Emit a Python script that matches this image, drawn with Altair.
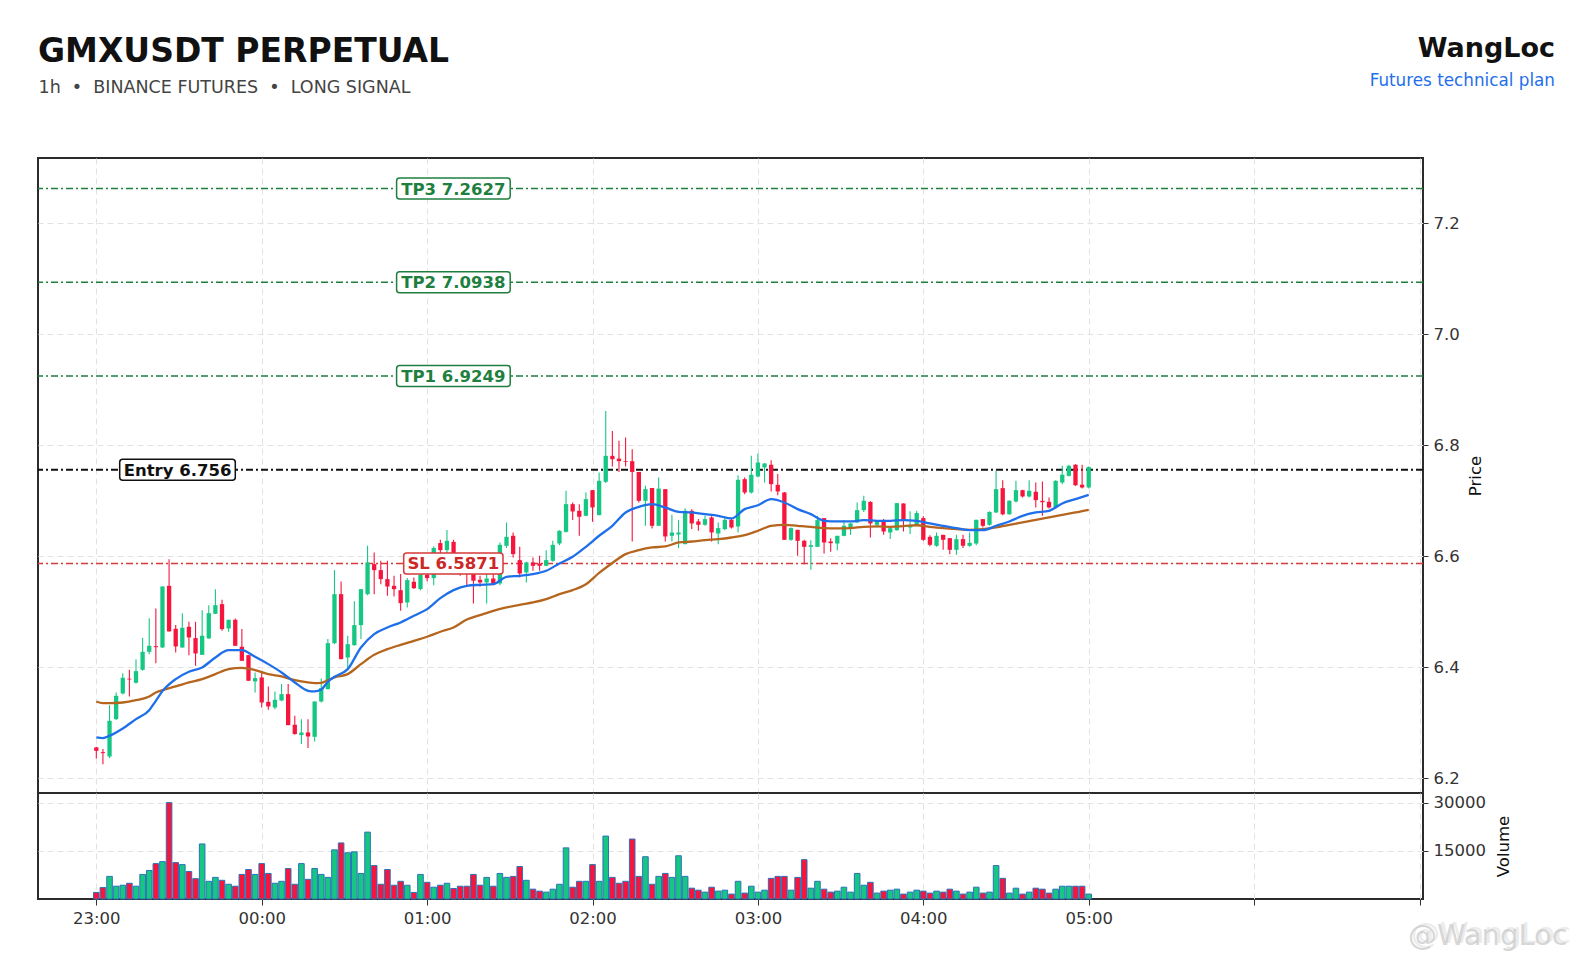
import altair as alt
import pandas as pd

# ---------------- data ----------------
opens = [6.2556, 6.2471, 6.2393, 6.3066, 6.3529, 6.3795, 6.3721, 6.3955, 6.4279, 6.4380,
         6.4357, 6.5468, 6.4694, 6.4357, 6.4730, 6.4526, 6.4225, 6.4520, 6.4964, 6.5138,
         6.4700, 6.4856, 6.4370, 6.4219, 6.3745, 6.3817, 6.3378, 6.3276, 6.3402, 6.3517,
         6.2964, 6.2778, 6.2826, 6.2748, 6.3384, 6.3607, 6.4435, 6.5318, 6.4177, 6.4399,
         6.4760, 6.5318, 6.5859, 6.5751, 6.5589, 6.5468, 6.5390, 6.5168, 6.5541, 6.5410,
         6.5667, 6.5607, 6.6238, 6.6111, 6.6260, 6.5900, 6.5750, 6.5680, 6.5577, 6.5529,
         6.5600, 6.5510, 6.6189, 6.6370, 6.5931, 6.5709, 6.5889, 6.5871, 6.5829, 6.5919,
         6.6231, 6.6440, 6.6940, 6.6820, 6.6730, 6.7192, 6.6742, 6.7342, 6.7810, 6.7760,
         6.7714, 6.7714, 6.7520, 6.7000, 6.7230, 6.6550, 6.7210, 6.6369, 6.6393, 6.6219,
         6.6820, 6.6628, 6.6568, 6.6700, 6.6411, 6.6490, 6.6658, 6.6538, 6.7390, 6.7150,
         6.7438, 6.7601, 6.7650, 6.7288, 6.7150, 6.6297, 6.6477, 6.6279, 6.6171, 6.6171,
         6.6688, 6.6267, 6.6230, 6.6369, 6.6507, 6.6610, 6.6832, 6.6980, 6.6567, 6.6640,
         6.6430, 6.6471, 6.6952, 6.6520, 6.6560, 6.6688, 6.6351, 6.6189, 6.6387, 6.6327,
         6.6117, 6.6310, 6.6189, 6.6230, 6.6670, 6.6568, 6.6790, 6.7228, 6.6757, 6.6988,
         6.7192, 6.7078, 6.7162, 6.7000, 6.6982, 6.6880, 6.7330, 6.7450, 6.7650, 6.7290,
         6.7240]
highs = [6.2570, 6.2526, 6.3318, 6.3547, 6.3895, 6.3955, 6.4147, 6.4526, 6.4886, 6.5060,
         6.5456, 6.5949, 6.4760, 6.4976, 6.4820, 6.4820, 6.5030, 6.5120, 6.5408, 6.5216,
         6.4856, 6.4880, 6.4688, 6.4225, 6.3907, 6.3907, 6.3655, 6.3565, 6.3697, 6.3697,
         6.3126, 6.3066, 6.3066, 6.3384, 6.3799, 6.4508, 6.5751, 6.5547, 6.4568, 6.5192,
         6.5408, 6.6189, 6.6069, 6.5919, 6.5919, 6.5649, 6.5679, 6.5607, 6.5619, 6.5829,
         6.5780, 6.6180, 6.6300, 6.6474, 6.6300, 6.6000, 6.5850, 6.5750, 6.5650, 6.5720,
         6.5680, 6.6250, 6.6610, 6.6430, 6.6171, 6.5900, 6.5980, 6.6009, 6.6111, 6.6280,
         6.6471, 6.7180, 6.6970, 6.6940, 6.7150, 6.7192, 6.7510, 6.8620, 6.8260, 6.8080,
         6.8140, 6.7930, 6.7520, 6.7270, 6.7230, 6.7420, 6.7210, 6.6748, 6.6652, 6.6868,
         6.6850, 6.6670, 6.6730, 6.6720, 6.6610, 6.6718, 6.6680, 6.7462, 6.7420, 6.7810,
         6.7853, 6.7680, 6.7733, 6.7481, 6.7160, 6.6520, 6.6480, 6.6300, 6.6290, 6.6730,
         6.6690, 6.6327, 6.6370, 6.6650, 6.6600, 6.6970, 6.7090, 6.6990, 6.6650, 6.6670,
         6.6510, 6.6960, 6.6955, 6.6810, 6.6820, 6.6720, 6.6380, 6.6430, 6.6390, 6.6330,
         6.6387, 6.6387, 6.6430, 6.6660, 6.6670, 6.6810, 6.7540, 6.7369, 6.7010, 6.7360,
         6.7200, 6.7372, 6.7330, 6.7350, 6.7060, 6.7370, 6.7630, 6.7650, 6.7660, 6.7650,
         6.7620]
lows = [6.2357, 6.2255, 6.2363, 6.3050, 6.3510, 6.3474, 6.3710, 6.3940, 6.4237, 6.4075,
        6.4350, 6.4646, 6.4267, 6.4350, 6.4219, 6.4027, 6.4220, 6.4515, 6.4960, 6.4658,
        6.4640, 6.4387, 6.4117, 6.3757, 6.3547, 6.3276, 6.3234, 6.3246, 6.3390, 6.2958,
        6.2784, 6.2616, 6.2544, 6.2664, 6.3366, 6.3600, 6.4417, 6.4147, 6.3967, 6.4390,
        6.4508, 6.5300, 6.5318, 6.5498, 6.5288, 6.5276, 6.5018, 6.5078, 6.5410, 6.5390,
        6.5550, 6.5480, 6.5950, 6.6000, 6.5800, 6.5650, 6.5480, 6.5150, 6.5450, 6.5150,
        6.5480, 6.5480, 6.6150, 6.5980, 6.5619, 6.5529, 6.5740, 6.5740, 6.5820, 6.5900,
        6.6200, 6.6430, 6.6652, 6.6370, 6.6720, 6.6622, 6.6740, 6.7320, 6.7620, 6.7520,
        6.7620, 6.6267, 6.6970, 6.6550, 6.6500, 6.6550, 6.6267, 6.6267, 6.6147, 6.6219,
        6.6490, 6.6460, 6.6550, 6.6267, 6.6219, 6.6470, 6.6500, 6.6430, 6.7120, 6.7130,
        6.7420, 6.7330, 6.7168, 6.7100, 6.6297, 6.6280, 6.6009, 6.5859, 6.5757, 6.6171,
        6.6051, 6.6080, 6.6110, 6.6360, 6.6387, 6.6600, 6.6800, 6.6340, 6.6520, 6.6387,
        6.6310, 6.6460, 6.6447, 6.6400, 6.6550, 6.6280, 6.6180, 6.6170, 6.6117, 6.6039,
        6.6027, 6.6150, 6.6170, 6.6200, 6.6520, 6.6550, 6.6780, 6.6740, 6.6750, 6.6970,
        6.7060, 6.7060, 6.6880, 6.6730, 6.6860, 6.6860, 6.7300, 6.7440, 6.7270, 6.7220,
        6.7220]
closes = [6.2495, 6.2453, 6.3036, 6.3486, 6.3811, 6.3780, 6.3931, 6.4279, 6.4387, 6.4362,
          6.5456, 6.4646, 6.4375, 6.4712, 6.4538, 6.4249, 6.4568, 6.4976, 6.5120, 6.4688,
          6.4856, 6.4387, 6.4117, 6.3757, 6.3805, 6.3366, 6.3294, 6.3414, 6.3517, 6.2958,
          6.2796, 6.2826, 6.2754, 6.3384, 6.3625, 6.4435, 6.5318, 6.4147, 6.4417, 6.4760,
          6.5408, 6.5889, 6.5751, 6.5589, 6.5456, 6.5408, 6.5156, 6.5571, 6.5426, 6.5667,
          6.5607, 6.6150, 6.6111, 6.6280, 6.5900, 6.5750, 6.5680, 6.5560, 6.5529, 6.5600,
          6.5510, 6.6207, 6.6351, 6.6039, 6.5691, 6.5889, 6.5829, 6.5829, 6.5931, 6.6207,
          6.6460, 6.6940, 6.6808, 6.6712, 6.7030, 6.6880, 6.7360, 6.7810, 6.7750, 6.7714,
          6.7700, 6.7520, 6.7000, 6.7210, 6.6550, 6.7220, 6.6357, 6.6429, 6.6429, 6.6820,
          6.6592, 6.6568, 6.6670, 6.6430, 6.6508, 6.6658, 6.6520, 6.7378, 6.7150, 6.7469,
          6.7690, 6.7673, 6.7300, 6.7168, 6.6297, 6.6508, 6.6279, 6.6171, 6.6201, 6.6652,
          6.6249, 6.6237, 6.6369, 6.6550, 6.6592, 6.6832, 6.7000, 6.6592, 6.6639, 6.6447,
          6.6507, 6.6958, 6.6640, 6.6560, 6.6780, 6.6297, 6.6207, 6.6369, 6.6297, 6.6117,
          6.6309, 6.6190, 6.6243, 6.6658, 6.6550, 6.6800, 6.7210, 6.6757, 6.7000, 6.7192,
          6.7078, 6.7180, 6.7012, 6.6975, 6.6880, 6.7360, 6.7470, 6.7630, 6.7280, 6.7240,
          6.7610]
volumes = [2040, 3570, 7040, 3980, 4290, 4900, 3980, 7650, 8880, 11020,
           11630, 30000, 11330, 10710, 8570, 6330, 17140, 5510, 6730, 5820,
           4590, 3980, 7650, 9180, 7650, 11020, 7960, 4900, 5510, 9490,
           4590, 11020, 6120, 9490, 7650, 6730, 15300, 17450, 14390, 14690,
           7960, 20820, 10410, 4590, 9180, 4290, 5510, 4290, 2040, 7650,
           5200, 3670, 4290, 4900, 3260, 3980, 3980, 7650, 4290, 6730,
           3980, 7960, 6730, 7040, 10100, 5820, 3060, 2450, 2140, 3060,
           4590, 15920, 3670, 5510, 5510, 10710, 5510, 19590, 6730, 4900,
           5510, 18670, 7040, 13160, 4590, 7040, 7960, 6730, 13460, 7040,
           3370, 2750, 2140, 3670, 2450, 2750, 1530, 5510, 1840, 3980,
           2140, 2750, 6430, 7040, 7040, 2750, 6730, 12240, 3370, 5510,
           3060, 2140, 2450, 3670, 2140, 7960, 4290, 5200, 1840, 2450,
           2750, 3060, 1530, 2140, 2750, 2450, 1840, 2450, 2140, 3060,
           2450, 1530, 2140, 3670, 1840, 2140, 10410, 6430, 1840, 3370,
           1530, 2140, 3370, 3060, 1840, 3060, 3980, 3980, 3980, 3980,
           1530]

# moving averages read at sampled candles (candle number, 1-based)
ma_idx = [1, 2, 3, 5, 7, 9, 10, 11, 13, 15, 17, 19, 21, 23, 25, 27, 29, 31, 33, 34,
          35, 36, 37, 39, 41, 43, 45, 47, 49, 51, 53, 55, 57, 59, 61, 63, 65, 67, 69, 71,
          73, 75, 77, 79, 81, 83, 85, 87, 89, 91, 93, 95, 97, 99, 101, 103, 105, 107, 109, 111,
          113, 115, 117, 119, 121, 123, 125, 127, 129, 131, 133, 135, 137, 139, 141, 143, 145, 147, 149, 151]
ma_fast = [6.2736, 6.2724, 6.2766, 6.2898, 6.3066, 6.3228, 6.3396, 6.3570, 6.3787, 6.3919,
           6.3997, 6.4177, 6.4309, 6.4309, 6.4189, 6.4057, 6.3907, 6.3727, 6.3577, 6.3565,
           6.3600, 6.3740, 6.3829, 6.3967, 6.4357, 6.4598, 6.4718, 6.4808, 6.4928, 6.5048,
           6.5246, 6.5390, 6.5468, 6.5486, 6.5498, 6.5630, 6.5649, 6.5679, 6.5739, 6.5871,
           6.5991, 6.6171, 6.6370, 6.6550, 6.6790, 6.6892, 6.6940, 6.6880, 6.6802, 6.6790,
           6.6760, 6.6730, 6.6682, 6.6850, 6.6920, 6.7030, 6.6970, 6.6850, 6.6760, 6.6640,
           6.6628, 6.6628, 6.6652, 6.6640, 6.6640, 6.6652, 6.6640, 6.6592, 6.6550, 6.6508,
           6.6471, 6.6471, 6.6550, 6.6628, 6.6730, 6.6790, 6.6820, 6.6952, 6.7030, 6.7108]
ma_slow = [6.3384, 6.3354, 6.3354, 6.3366, 6.3408, 6.3474, 6.3547, 6.3590, 6.3655, 6.3727,
           6.3787, 6.3877, 6.3967, 6.3990, 6.3949, 6.3877, 6.3835, 6.3769, 6.3727, 6.3715,
           6.3721, 6.3769, 6.3817, 6.3877, 6.4057, 6.4225, 6.4327, 6.4405, 6.4477, 6.4550,
           6.4640, 6.4718, 6.4860, 6.4940, 6.5018, 6.5078, 6.5126, 6.5168, 6.5228, 6.5318,
           6.5390, 6.5498, 6.5700, 6.5880, 6.6039, 6.6111, 6.6159, 6.6177, 6.6249, 6.6267,
           6.6291, 6.6309, 6.6339, 6.6381, 6.6460, 6.6550, 6.6568, 6.6550, 6.6532, 6.6508,
           6.6502, 6.6508, 6.6532, 6.6538, 6.6532, 6.6544, 6.6560, 6.6532, 6.6508, 6.6490,
           6.6477, 6.6490, 6.6520, 6.6568, 6.6610, 6.6658, 6.6700, 6.6748, 6.6790, 6.6838]

level_names = ["TP3", "TP2", "TP1", "Entry", "SL"]
level_prices = [7.2627, 7.0938, 6.9249, 6.756, 6.5871]

tick_hours = [23, 24, 25, 26, 27, 28, 29, 30, 31]
price_ticks = [6.2, 6.4, 6.6, 6.8, 7.0, 7.2]
volume_ticks = [15000, 30000]

NB = "\u00a0"
TITLE = "GMXUSDT PERPETUAL"
SUBTITLE = f"1h{NB}{NB}\u2022{NB}{NB}BINANCE FUTURES{NB}{NB}\u2022{NB}{NB}LONG SIGNAL"
BRAND = "WangLoc"
BRAND_SUB = "Futures technical plan"
WATERMARK = "@WangLoc"

# ---------------- styling ----------------
FONT = "DejaVu Sans"
GREEN = "#16C784"
RED = "#F5153D"
BLUE = "#1F6FEB"
BROWN = "#B5651D"
TP_COLOR = "#1E7F3E"
SL_COLOR = "#D63A3A"
ENTRY_COLOR = "#111111"
GRID = "#E2E2E2"
W = 1385
H_PRICE = 635
H_VOL = 106
START_H = 23.0
STEP_H = 0.04  # candle spacing in hours
X_DOMAIN = [22.6475, 31.021]
DASH = [7, 3, 2, 3]

n = len(opens)
candles = pd.DataFrame({
    "t": [START_H + i * STEP_H for i in range(n)],
    "open": opens, "high": highs, "low": lows, "close": closes, "volume": volumes,
})
candles["dir"] = ["up" if c >= o else "down" for o, c in zip(opens, closes)]

ma = pd.DataFrame({
    "t": [START_H + (i - 1) * STEP_H for i in ma_idx],
    "fast": ma_fast, "slow": ma_slow,
})

xs = alt.Scale(domain=X_DOMAIN, nice=False, zero=False, padding=0)
ys = alt.Scale(domain=[6.1735, 7.3177], nice=False, zero=False, padding=0)
vs = alt.Scale(domain=[0, 33000], nice=False, zero=False, padding=0)
dir_color = alt.Color("dir:N", scale=alt.Scale(domain=["up", "down"], range=[GREEN, RED]), legend=None)

x_grid_axis = alt.Axis(values=tick_hours, labels=False, ticks=False, domain=False,
                       grid=True, gridColor=GRID, gridDash=[6, 4], title=None)
price_axis = alt.Axis(orient="right", values=price_ticks, format=".1f", title="Price",
                      grid=True, gridColor=GRID, gridDash=[6, 4], domain=False,
                      tickSize=5, tickColor="#333", labelPadding=5,
                      titleAngle=270, titleX=52, titleY=H_PRICE / 2,
                      titleAlign="center", titleBaseline="middle",
                      labelFontSize=16.5, labelColor="#333", titleFontSize=16.5,
                      titleFontWeight="normal", titleColor="#111")

X = alt.X("t:Q", scale=xs, axis=x_grid_axis)


def Yp(field):
    return alt.Y(f"{field}:Q", scale=ys, axis=price_axis)


base = alt.Chart(candles)

layers = []
# level lines
level_styles = {"TP3": (TP_COLOR, 1.5), "TP2": (TP_COLOR, 1.5), "TP1": (TP_COLOR, 1.5),
                "Entry": (ENTRY_COLOR, 1.8), "SL": (SL_COLOR, 1.6)}
for name, price in zip(level_names, level_prices):
    col, sw = level_styles[name]
    layers.append(
        alt.Chart(pd.DataFrame({"price": [price]}))
        .mark_rule(color=col, strokeWidth=sw, strokeDash=DASH)
        .encode(y=Yp("price"))
    )

# candles
layers.append(base.mark_rule(strokeWidth=1.1).encode(x=X, y=Yp("low"), y2="high:Q", color=dir_color))
layers.append(base.mark_bar(size=4.3).encode(x=X, y=Yp("open"), y2="close:Q", color=dir_color))

# moving averages
layers.append(alt.Chart(ma).mark_line(color=BROWN, strokeWidth=2.3, interpolate="monotone")
              .encode(x=X, y=Yp("slow")))
layers.append(alt.Chart(ma).mark_line(color=BLUE, strokeWidth=2.3, interpolate="monotone")
              .encode(x=X, y=Yp("fast")))

# level labels
lv = pd.DataFrame({"name": level_names, "price": level_prices})
lv["label"] = [f"{n_} {p}" for n_, p in zip(level_names, level_prices)]
label_boxes = {
    "TP": (358.6, 472.2, TP_COLOR, TP_COLOR),
    "Entry": (81.7, 197.3, ENTRY_COLOR, ENTRY_COLOR),
    "SL": (365.7, 465.0, SL_COLOR, "#CC2828"),
}
for key, (x1, x2, stroke, tcol) in label_boxes.items():
    sub = lv[lv["name"].str.startswith(key)]
    ch = alt.Chart(sub)
    layers.append(ch.mark_rect(fill="white", stroke=stroke, strokeWidth=1.5, cornerRadius=3,
                               yOffset=-10.5, y2Offset=10.5)
                  .encode(x=alt.value(x1), x2=alt.value(x2), y=Yp("price"), y2="price:Q"))
    layers.append(ch.mark_text(fontSize=16.5, fontWeight="bold", color=tcol, align="center",
                               baseline="middle", dy=1)
                  .encode(x=alt.value((x1 + x2) / 2), y=Yp("price"), text="label:N"))


# header texts
def txt(s, x, y, **kw):
    return alt.Chart(pd.DataFrame({"s": [s]})).mark_text(**kw).encode(
        x=alt.value(x), y=alt.value(y), text="s:N")


layers.append(txt(TITLE, 0, -96, align="left", baseline="alphabetic", fontSize=33,
                  fontWeight="bold", color="#111111"))
layers.append(txt(SUBTITLE, 0.5, -64.7, align="left", baseline="alphabetic", fontSize=17.5,
                  color="#444444"))
layers.append(txt(BRAND, 1517, -101, align="right", baseline="alphabetic", fontSize=27,
                  fontWeight="bold", color="#111111"))
layers.append(txt(BRAND_SUB, 1517, -71.8, align="right", baseline="alphabetic", fontSize=16.8,
                  color="#1F6FEB"))
# invisible anchor fixing the page origin
layers.append(txt(".", -29, -149, align="left", baseline="top", fontSize=2, opacity=0))

price_chart = alt.layer(*layers).properties(width=W, height=H_PRICE)

# ---------------- volume panel ----------------
x_vol_axis = alt.Axis(values=tick_hours, grid=True, gridColor=GRID, gridDash=[6, 4],
                      domain=False, tickSize=6, tickColor="#333", labelPadding=5,
                      labelFontSize=16.5, labelColor="#333", title=None,
                      labelExpr="datum.value <= 29 ? ((datum.value % 24) < 10 ? '0' : '') + (datum.value % 24) + ':00' : ''")
vol_axis = alt.Axis(orient="right", values=volume_ticks, format="d", title="Volume",
                    grid=True, gridColor=GRID, gridDash=[6, 4], domain=False,
                    tickSize=5, tickColor="#333", labelPadding=5,
                    titleAngle=270, titleX=80, titleY=H_VOL / 2,
                    titleAlign="center", titleBaseline="middle",
                    labelFontSize=16.5, labelColor="#333", titleFontSize=16.5,
                    titleFontWeight="normal", titleColor="#111")

vol_bars = base.mark_bar(size=5.6, stroke="#2C72B8", strokeWidth=1).encode(
    x=alt.X("t:Q", scale=xs, axis=x_vol_axis),
    y=alt.Y("volume:Q", scale=vs, axis=vol_axis),
    color=dir_color,
)
wm1 = txt(WATERMARK, 1370, 152, align="left", baseline="alphabetic", fontSize=29,
          color="#B8B8B8", opacity=0.55)
wm2 = txt(WATERMARK, 1373, 150, align="left", baseline="alphabetic", fontSize=29,
          color="#C8C8C8", opacity=0.35)

vol_chart = alt.layer(vol_bars, wm1, wm2).properties(width=W, height=H_VOL)

chart = (
    alt.vconcat(price_chart, vol_chart, spacing=0, bounds="flush")
    .properties(padding=0)
    .configure(font=FONT)
    .configure_view(stroke="#2B2B2B", strokeWidth=2)
    .configure_text(font=FONT)
)

chart.save("out.html", embed_options={"renderer": "svg", "actions": False})
